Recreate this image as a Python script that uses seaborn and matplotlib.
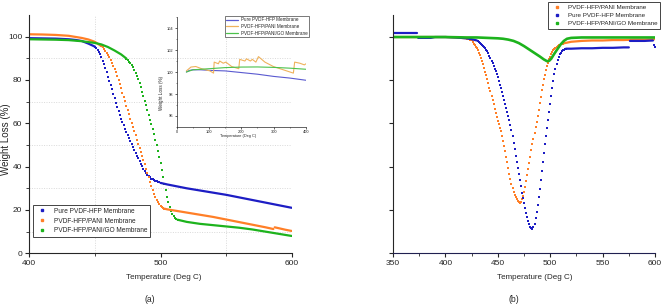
import matplotlib
matplotlib.use("Agg")
import matplotlib.pyplot as plt
from matplotlib.lines import Line2D
from matplotlib.ticker import MultipleLocator
import seaborn as sns

# ===============================
# Data
# ===============================
names = ["Pure PVDF-HFP Membrane", "PVDF-HFP/PANI Membrane", "PVDF-HFP/PANI/GO Membrane"]

# ---- (a) TGA, weight (%) ----
# solid runs: temperature / weight ; dotted runs: one reading per deg from a start temperature
tga_pure_a_t = [400, 410, 420, 430, 435, 440, 445, 450]
tga_pure_a_w = [99.3, 99.2, 99.1, 98.8, 98.5, 98.0, 96.8, 95.4]
tga_pure_dot_t0 = 450
tga_pure_dot_w = [95.4, 94.7, 93.8, 92.9, 91.8, 90.5, 88.9, 87.2, 85.4, 83.5,
                  81.6, 79.7, 77.8, 75.9, 73.7, 71.6, 69.6, 67.6, 65.7, 63.9,
                  62.2, 60.6, 59.1, 57.6, 56.2, 54.8, 53.4, 52.0, 50.6, 49.2,
                  47.8, 46.4, 45.1, 43.8, 42.5, 41.3, 40.1, 39.0, 38.0, 37.1,
                  36.3, 35.6, 35.0, 34.5, 34.1, 33.8, 33.5, 33.2, 33.0, 32.7, 32.5]
tga_pure_b_t = [500, 505, 510, 520, 530, 540, 550, 560, 570, 580, 590, 600]
tga_pure_b_w = [32.5, 31.8, 31.2, 30.0, 29.0, 28.0, 27.0, 25.8, 24.6, 23.4, 22.2, 21.0]

tga_pani_a_t = [400, 410, 420, 430, 440, 445, 450, 453, 455]
tga_pani_a_w = [101.1, 101.0, 100.8, 100.4, 99.4, 98.7, 97.6, 96.4, 95.6]
tga_pani_dot_t0 = 455
tga_pani_dot_w = [95.6, 95.0, 94.3, 93.5, 92.6, 91.6, 90.5, 89.3, 88.0, 86.6,
                  85.1, 83.5, 81.8, 80.0, 78.1, 76.2, 74.2, 72.2, 70.2, 68.1,
                  66.1, 64.1, 62.1, 60.1, 58.2, 56.3, 54.4, 52.5, 50.6, 48.7,
                  46.8, 44.9, 43.0, 41.0, 39.0, 37.0, 35.0, 33.0, 31.0, 29.2,
                  27.5, 26.0, 24.7, 23.6, 22.7, 22.0, 21.4, 21.0, 20.6]
tga_pani_b_t = [503, 505, 510, 520, 530, 540, 550, 560, 570, 580, 586]
tga_pani_b_w = [20.6, 20.3, 19.8, 18.8, 17.8, 16.8, 15.6, 14.4, 13.2, 12.0, 11.2]
tga_pani_c_t = [587, 590, 595, 600]
tga_pani_c_w = [12.0, 11.6, 10.9, 10.3]

tga_go_a_t = [400, 410, 420, 430, 440, 450, 455, 460, 465, 470, 474]
tga_go_a_w = [98.8, 98.7, 98.6, 98.4, 97.9, 97.1, 96.4, 95.2, 93.6, 91.8, 89.9]
tga_go_dot_t0 = 474
tga_go_dot_w = [89.9, 89.2, 88.5, 87.7, 86.8, 85.8, 84.7, 83.4, 81.9, 80.3,
                78.5, 76.6, 74.6, 72.5, 70.4, 68.3, 66.1, 63.9, 61.7, 59.5,
                57.2, 54.9, 52.5, 50.0, 47.4, 44.6, 41.7, 38.6, 35.4, 32.2,
                29.1, 26.2, 23.6, 21.3, 19.5, 18.1, 17.1, 16.4, 15.9, 15.5]
tga_go_b_t = [513, 520, 530, 540, 550, 560, 570, 580, 590, 600]
tga_go_b_w = [15.5, 14.5, 13.6, 13.0, 12.4, 11.8, 11.0, 10.0, 9.0, 8.0]

# ---- (a) inset, 0-400 deg ----
ins_pure_t = [30, 40, 50, 75, 100, 150, 200, 250, 300, 350, 400]
ins_pure_w = [100.0, 100.15, 100.2, 100.2, 100.15, 100.1, 99.95, 99.8, 99.6, 99.45, 99.25]
ins_go_t = [30, 40, 50, 75, 100, 150, 200, 250, 300, 350, 400]
ins_go_w = [100.0, 100.1, 100.2, 100.25, 100.3, 100.4, 100.45, 100.46, 100.42, 100.35, 100.25]
ins_pani_t = [30, 44, 59, 77, 103, 114, 116, 129, 133, 144, 152, 170, 192, 195,
              211, 216, 228, 234, 245, 253, 273, 299, 330, 361, 365, 381, 395, 400]
ins_pani_w = [100.1, 100.45, 100.5, 100.3, 100.1, 99.9, 100.9, 100.75, 101.0, 100.8,
              100.9, 100.5, 100.3, 101.15, 101.0, 101.2, 101.0, 101.15, 100.9, 101.4,
              100.9, 100.5, 100.2, 99.9, 100.9, 100.8, 100.65, 100.75]

# ---- (b) DTG (no y scale printed) ----
dtg_pure_a_t = [350, 360, 373]
dtg_pure_a_v = [0.09, 0.09, 0.09]
dtg_pure_b_t = [374, 380, 386, 390, 400, 410, 415, 420, 425, 430]
dtg_pure_b_v = [-0.02, -0.02, -0.02, 0.0, 0.0, -0.01, -0.02, -0.03, -0.05, -0.08]
dtg_pure_dot_t0 = 431
dtg_pure_dot_v = [-0.10, -0.12, -0.14, -0.16, -0.18, -0.20, -0.23, -0.26, -0.29, -0.33,
                  -0.38, -0.43, -0.49, -0.55, -0.61, -0.67, -0.73, -0.79, -0.85, -0.93,
                  -1.01, -1.10, -1.19, -1.28, -1.37, -1.46, -1.55, -1.64, -1.73, -1.83,
                  -1.93, -2.04, -2.16, -2.30, -2.45, -2.60, -2.75, -2.90, -3.04, -3.18,
                  -3.32, -3.46, -3.60, -3.73, -3.85, -3.96, -4.07, -4.17, -4.26, -4.34,
                  -4.40, -4.43, -4.44, -4.40, -4.32, -4.20, -4.05, -3.88, -3.70, -3.51,
                  -3.31, -3.10, -2.89, -2.68, -2.48, -2.29, -2.11, -1.93, -1.74, -1.55,
                  -1.36, -1.18, -1.01, -0.86, -0.73, -0.62, -0.53, -0.46, -0.40, -0.36,
                  -0.33, -0.31, -0.29, -0.28, -0.27]
dtg_pure_c_t = [515, 520, 530, 540, 550, 560, 570, 575]
dtg_pure_c_v = [-0.27, -0.27, -0.26, -0.26, -0.25, -0.25, -0.24, -0.24]
dtg_pure_d_t = [576, 580, 590, 598]
dtg_pure_d_v = [-0.09, -0.09, -0.09, -0.08]
dtg_pure_end_t = [599, 600]
dtg_pure_end_v = [-0.18, -0.22]

dtg_pani_a_t = [350, 380, 400, 410, 415, 420]
dtg_pani_a_v = [0.0, 0.0, 0.0, -0.01, -0.02, -0.03]
dtg_pani_dot_t0 = 421
dtg_pani_dot_v = [-0.04, -0.05, -0.06, -0.07, -0.08, -0.11, -0.15, -0.19, -0.22, -0.26,
                  -0.30, -0.36, -0.42, -0.48, -0.55, -0.63, -0.71, -0.80, -0.89, -0.98,
                  -1.07, -1.17, -1.26, -1.36, -1.46, -1.56, -1.66, -1.76, -1.85, -1.94,
                  -2.02, -2.10, -2.18, -2.28, -2.40, -2.52, -2.64, -2.77, -2.90, -3.03,
                  -3.16, -3.29, -3.40, -3.50, -3.58, -3.65, -3.71, -3.76, -3.80, -3.83,
                  -3.84, -3.82, -3.76, -3.68, -3.58, -3.47, -3.34, -3.20, -3.06, -2.92,
                  -2.77, -2.62, -2.47, -2.35, -2.22, -2.09, -1.97, -1.83, -1.68, -1.53,
                  -1.38, -1.23, -1.10, -0.98, -0.87, -0.77, -0.68, -0.60, -0.52, -0.46,
                  -0.40, -0.35, -0.31, -0.28, -0.25, -0.23, -0.21, -0.19, -0.18, -0.17,
                  -0.16, -0.15]
dtg_pani_b_t = [512, 520, 530, 540, 550, 560, 570, 580, 590, 600]
dtg_pani_b_v = [-0.15, -0.11, -0.09, -0.08, -0.08, -0.07, -0.07, -0.06, -0.06, -0.05]

dtg_go_t = [350, 380, 400, 420, 430, 440, 450, 455, 460, 465, 470, 475, 480, 485, 490,
            494, 497, 499, 501, 503, 506, 508, 510, 513, 516, 520, 530, 550, 600]
dtg_go_v = [0.0, 0.0, 0.0, -0.01, -0.01, -0.02, -0.03, -0.04, -0.06, -0.09, -0.14, -0.21,
            -0.29, -0.37, -0.45, -0.52, -0.56, -0.55, -0.50, -0.42, -0.31, -0.24, -0.17,
            -0.09, -0.04, -0.02, -0.01, -0.01, -0.01]

# ===============================
# Style
# ===============================
BLUE, ORANGE, GREEN = "#1d1dc4", "#ff7f27", "#1db31d"
IN_BLUE, IN_ORANGE, IN_GREEN = "#5a5ad0", "#efb25c", "#4cc24c"

sns.set_style("ticks")
plt.rcParams["font.family"] = ["Liberation Sans", "DejaVu Sans"]
plt.rcParams["xtick.major.size"] = 3
plt.rcParams["ytick.major.size"] = 3
plt.rcParams["xtick.minor.size"] = 2
plt.rcParams["ytick.minor.size"] = 2
plt.rcParams["axes.linewidth"] = 0.8

DOT = 2.6


def solid(ax, t, v, color, lw=1.6):
    sns.lineplot(x=t, y=v, ax=ax, color=color, linewidth=lw, estimator=None, sort=False)


def dotted(ax, t0, v, color, s=DOT):
    t = list(range(t0, t0 + len(v)))
    sns.scatterplot(x=t, y=v, ax=ax, color=color, marker="s", s=s, linewidth=0)


def dot_handle(color):
    return Line2D([], [], color=color, marker="s", markersize=1.6, linestyle="none")


fig = plt.figure(figsize=(6.63, 3.08), dpi=100)
ax_a = fig.add_axes([0.0442, 0.1776, 0.3958, 0.7737])
ax_b = fig.add_axes([0.5928, 0.1786, 0.3952, 0.7727])
ax_in = fig.add_axes([0.2665, 0.5877, 0.195, 0.357])

# ===============================
# (a) TGA
# ===============================
solid(ax_a, tga_pure_a_t, tga_pure_a_w, BLUE)
dotted(ax_a, tga_pure_dot_t0, tga_pure_dot_w, BLUE)
solid(ax_a, tga_pure_b_t, tga_pure_b_w, BLUE)

solid(ax_a, tga_pani_a_t, tga_pani_a_w, ORANGE)
dotted(ax_a, tga_pani_dot_t0, tga_pani_dot_w, ORANGE)
solid(ax_a, tga_pani_b_t, tga_pani_b_w, ORANGE)
solid(ax_a, tga_pani_c_t, tga_pani_c_w, ORANGE)

solid(ax_a, tga_go_a_t, tga_go_a_w, GREEN)
dotted(ax_a, tga_go_dot_t0, tga_go_dot_w, GREEN)
solid(ax_a, tga_go_b_t, tga_go_b_w, GREEN)

ax_a.set_xlim(400, 600)
ax_a.set_ylim(0, 110)
ax_a.xaxis.set_major_locator(MultipleLocator(100))
ax_a.xaxis.set_minor_locator(MultipleLocator(50))
ax_a.set_yticks([0, 20, 40, 60, 80, 100])
ax_a.set_yticks([10, 30, 50, 70, 90], minor=True)
ax_a.grid(which="minor", color="#d9d9d9", linestyle=(0, (1, 1.5)), linewidth=0.7)
ax_a.set_axisbelow(True)
ax_a.tick_params(labelsize=6, pad=2)
ax_a.set_xlabel("Temperature (Deg C)", fontsize=5.8)
ax_a.set_ylabel("Weight Loss (%)", fontsize=7)
ax_a.xaxis.set_label_coords(0.513, -0.087)
ax_a.yaxis.set_label_coords(-0.068, 0.48)
sns.despine(ax=ax_a)

leg_a = ax_a.legend(handles=[dot_handle(c) for c in (BLUE, ORANGE, GREEN)], labels=names,
                    loc="upper left", bbox_to_anchor=(33 / 663, 1 - 205 / 308),
                    bbox_transform=fig.transFigure, borderaxespad=0, fontsize=4.7,
                    fancybox=False, edgecolor="#444444", framealpha=1,
                    handlelength=2, handletextpad=0.8, labelspacing=0.45)
leg_a.get_frame().set_linewidth(0.7)

# inset
solid(ax_in, ins_pure_t, ins_pure_w, IN_BLUE, lw=0.8)
solid(ax_in, ins_pani_t, ins_pani_w, IN_ORANGE, lw=0.8)
solid(ax_in, ins_go_t, ins_go_w, IN_GREEN, lw=0.8)
ax_in.set_xlim(0, 400)
ax_in.set_ylim(95, 105)
ax_in.set_xticks([0, 100, 200, 300, 400])
ax_in.set_yticks([96, 98, 100, 102, 104])
ax_in.yaxis.set_minor_locator(MultipleLocator(1))
ax_in.xaxis.set_minor_locator(MultipleLocator(50))
ax_in.patch.set_alpha(0)
ax_in.tick_params(labelsize=2.9, pad=1, length=1.5, width=0.5)
ax_in.tick_params(which="minor", length=1, width=0.4)
for sp in ax_in.spines.values():
    sp.set_linewidth(0.5)
ax_in.set_xlabel("Temperature (Deg C)", fontsize=2.8)
ax_in.set_ylabel("Weight Loss (%)", fontsize=3.3)
ax_in.xaxis.set_label_coords(0.474, -0.064)
ax_in.yaxis.set_label_coords(-0.10, 0.31)
sns.despine(ax=ax_in)
leg_in = ax_in.legend(handles=[Line2D([], [], color=c, lw=0.9) for c in (IN_BLUE, IN_ORANGE, IN_GREEN)],
                      labels=names, loc="upper left", bbox_to_anchor=(225 / 663, 1 - 16 / 308),
                      bbox_transform=fig.transFigure, borderaxespad=0, fontsize=3.3,
                      fancybox=False, edgecolor="#444444", framealpha=1,
                      handlelength=2.6, handletextpad=0.5, labelspacing=0.35, borderpad=0.3)
leg_in.get_frame().set_linewidth(0.5)

# ===============================
# (b) DTG
# ===============================
solid(ax_b, dtg_pani_a_t, dtg_pani_a_v, ORANGE)
dotted(ax_b, dtg_pani_dot_t0, dtg_pani_dot_v, ORANGE)
solid(ax_b, dtg_pani_b_t, dtg_pani_b_v, ORANGE)

solid(ax_b, dtg_pure_a_t, dtg_pure_a_v, BLUE)
solid(ax_b, dtg_pure_b_t, dtg_pure_b_v, BLUE)
dotted(ax_b, dtg_pure_dot_t0, dtg_pure_dot_v, BLUE)
solid(ax_b, dtg_pure_c_t, dtg_pure_c_v, BLUE)
solid(ax_b, dtg_pure_d_t, dtg_pure_d_v, BLUE)
sns.scatterplot(x=dtg_pure_end_t, y=dtg_pure_end_v, ax=ax_b, color=BLUE, marker="s", s=DOT, linewidth=0)

solid(ax_b, dtg_go_t, dtg_go_v, GREEN, lw=1.9)

ax_b.set_xlim(350, 600)
ax_b.set_ylim(-5, 0.51)
ax_b.xaxis.set_major_locator(MultipleLocator(50))
ax_b.xaxis.set_minor_locator(MultipleLocator(25))
ax_b.set_yticks([0, -1, -2, -3, -4, -5])
ax_b.set_yticklabels([])
ax_b.tick_params(labelsize=6, pad=2)
ax_b.set_xlabel("Temperature (Deg C)", fontsize=5.8)
ax_b.set_ylabel("")
ax_b.xaxis.set_label_coords(0.542, -0.087)
sns.despine(ax=ax_b)
ax_b.spines["bottom"].set_color("#202050")

leg_b = ax_b.legend(handles=[dot_handle(c) for c in (ORANGE, BLUE, GREEN)],
                    labels=[names[1], names[0], names[2]],
                    loc="upper left", bbox_to_anchor=(548 / 663, 1 - 2 / 308),
                    bbox_transform=fig.transFigure, borderaxespad=0, fontsize=4.5,
                    fancybox=False, edgecolor="#444444", framealpha=1,
                    handlelength=2, handletextpad=0.8, labelspacing=0.45)
leg_b.get_frame().set_linewidth(0.7)

fig.text(150 / 663, 1 - 300 / 308, "(a)", fontsize=6.2, ha="center", va="center")
fig.text(514 / 663, 1 - 300 / 308, "(b)", fontsize=6.2, ha="center", va="center")

fig.savefig("out.png", dpi=100)
